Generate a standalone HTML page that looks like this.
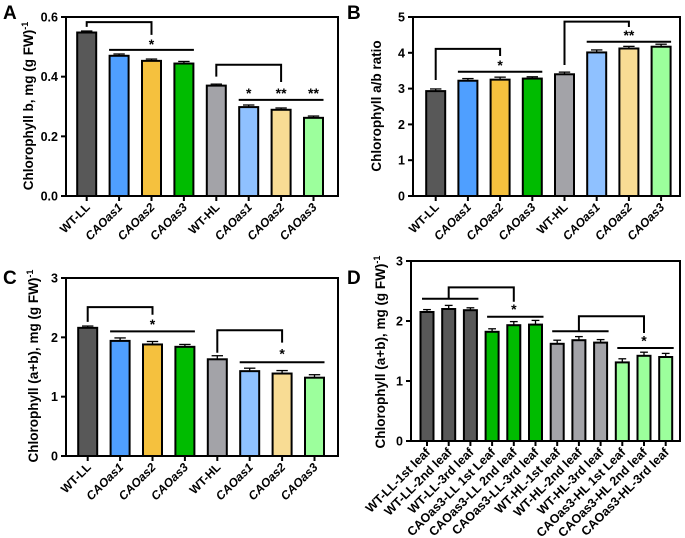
<!DOCTYPE html>
<html><head><meta charset="utf-8"><style>
html,body{margin:0;padding:0;background:#fff;}
svg{display:block;font-family:"Liberation Sans",Arial,sans-serif;font-weight:bold;}
</style></head><body>
<svg id="fig" width="685" height="538" viewBox="0 0 685 538" xmlns="http://www.w3.org/2000/svg"></svg>
<script>
// ---- data ----
const catsABC = ["WT-LL","CAOas1","CAOas2","CAOas3","WT-HL","CAOas1","CAOas2","CAOas3"];
const italicABC = [false,true,true,true,false,true,true,true];
const colorsABC = ["#585858","#4f9fff","#f5c13e","#00bb00","#a3a3a8","#8fc1ff","#f8dc94","#9cff9c"];
const valsA = [0.548,0.470,0.453,0.444,0.370,0.298,0.289,0.262];
const errA = [0.005,0.006,0.006,0.007,0.005,0.007,0.006,0.006];
const valsB = [2.93,3.22,3.25,3.28,3.40,4.01,4.12,4.17];
const errB = [0.06,0.06,0.07,0.05,0.06,0.07,0.06,0.07];
const valsC = [2.16,1.94,1.88,1.84,1.63,1.43,1.39,1.32];
const errC = [0.03,0.05,0.05,0.04,0.06,0.05,0.05,0.05];
const catsD = ["WT-LL-1st leaf","WT-LL-2nd leaf","WT-LL-3rd leaf","CAOas3-LL 1st Leaf","CAOas3-LL 2nd leaf","CAOas3-LL-3rd leaf","WT-HL-1st leaf","WT-HL-2nd leaf","WT-HL-3rd leaf","CAOas3-HL 1st Leaf","CAOas3-HL 2nd leaf","CAOas3-HL-3rd leaf"];
const colorsD = ["#585858","#585858","#585858","#00bb00","#00bb00","#00bb00","#a3a3a8","#a3a3a8","#a3a3a8","#9cff9c","#9cff9c","#9cff9c"];
const valsD = [2.15,2.20,2.18,1.82,1.93,1.94,1.62,1.68,1.64,1.31,1.42,1.40];
const errD = [0.04,0.06,0.04,0.05,0.06,0.07,0.06,0.06,0.05,0.06,0.06,0.06];
const ticksA = [0,0.2,0.4,0.6], tickLabA = ["0.0","0.2","0.4","0.6"];
const ticksB = [0,1,2,3,4,5], tickLabB = ["0","1","2","3","4","5"];
const ticksC = [0,1,2,3], tickLabC = ["0","1","2","3"];
const ticksD = [0,1,2,3], tickLabD = ["0","1","2","3"];

const NS="http://www.w3.org/2000/svg";
const svg=document.getElementById('fig');
function mk(tag,attrs,parent){const e=document.createElementNS(NS,tag);for(const k in attrs)e.setAttribute(k,attrs[k]);(parent||svg).appendChild(e);return e;}

function panel(o){
  const g=mk('g',{});
  
  
  const y=v=>o.y0-(v/o.ymax)*(o.y0-o.yTop);
  const x=i=>o.x0+i*o.step;
  const L=mk('text',{x:o.lx,y:o.ly,'font-size':19},g);L.textContent=o.letter;
  
  
  const t=mk('text',{x:0,y:0,'font-size':13.5,'text-anchor':'middle',transform:`translate(${o.tx},${o.ty}) rotate(-90)`},g);
  t.innerHTML=o.title;
  
  
  o.vals.forEach((v,i)=>{
    const cx=x(i);
    const ey=y(v+o.err[i]);
    const el=mk('line',{x1:cx,x2:cx,y1:y(v),y2:ey,stroke:'#000','stroke-width':1.3},g);
    
    
    mk('line',{x1:cx-o.bw*0.3,x2:cx+o.bw*0.3,y1:ey,y2:ey,stroke:'#000','stroke-width':1.3},g);
    const r=mk('rect',{x:cx-o.bw/2,y:y(v),width:o.bw,height:o.y0-y(v),fill:o.colors[i],stroke:'#000','stroke-width':2},g);
    
    
    mk('line',{x1:cx,x2:cx,y1:o.y0,y2:o.y0+5,stroke:'#000','stroke-width':2},g);
    const lb=mk('text',{x:0,y:0,'font-size':o.lfs,'text-anchor':'end',transform:`translate(${cx+4},${o.y0+12}) rotate(-45)`,'font-style':o.italic&&o.italic[i]?'italic':'normal'},g);
    lb.textContent=o.cats[i];
    
    
  });
  const f=mk('rect',{x:o.xl,y:o.yTop,width:o.xr-o.xl,height:o.y0-o.yTop,fill:'none',stroke:'#000','stroke-width':2},g);
  
  
  o.ticks.forEach((tv,i)=>{
    mk('line',{x1:o.xl-5,x2:o.xl,y1:y(tv),y2:y(tv),stroke:'#000','stroke-width':2},g);
    const tl=mk('text',{x:o.xl-8,y:y(tv)+4.5,'font-size':12.5,'text-anchor':'end'},g);
    tl.textContent=o.tickLab[i];
    
    
  });
  const ln=(x1,y1,x2,y2)=>{const l=mk('path',{d:`M${x1},${y1}L${x2},${y2}`,stroke:'#000','stroke-width':2,fill:'none'},g);};
  (o.brackets||[]).forEach(b=>{
    const p=mk('path',{d:`M${b[0]},${y(b[3])}L${b[0]},${y(b[2])}L${b[1]},${y(b[2])}L${b[1]},${y(b[4])}`,stroke:'#000','stroke-width':2,fill:'none'},g);
    
    
  });
  (o.lines||[]).forEach(l=>ln(l[0],y(l[2]),l[1],y(l[2])));
  (o.stars||[]).forEach(s=>{const st=mk('text',{x:s[0],y:y(s[1])+7,'font-size':14,'text-anchor':'middle'},g);st.textContent=s[2];});
  return {x,y};
}

const sup='<tspan dy="-5" font-size="9">-1</tspan>';
const ax=i=>86.7+i*32.4, bx=i=>435.7+i*32.2, dx=i=>427+i*21.7;
panel({name:'panel-a',letter:'A',lx:3,ly:19,x0:86.7,step:32.4,bw:19,xl:66,xr:338,yTop:17,y0:196,ymax:0.6,
  vals:valsA,err:errA,cats:catsABC,colors:colorsABC,italic:italicABC,lfs:12,ticks:ticksA,tickLab:tickLabA,
  tx:33,ty:106,title:'Chlorophyll b, mg (g FW)'+sup,
  brackets:[[ax(0),ax(2),0.583,0.567,0.54],[ax(4),ax(6),0.44,0.40,0.382]],
  lines:[[ax(1)-10,ax(3)+10,0.49],[ax(5)-10,ax(7)+10,0.322]],
  stars:[[ax(2),0.516,'*'],[ax(5),0.352,'*'],[ax(6),0.352,'**'],[ax(7),0.352,'**']]});
panel({name:'panel-b',letter:'B',lx:347,ly:19,x0:435.7,step:32.2,bw:19,xl:413,xr:680,yTop:17,y0:196,ymax:5,
  vals:valsB,err:errB,cats:catsABC,colors:colorsABC,italic:italicABC,lfs:12,ticks:ticksB,tickLab:tickLabB,
  tx:381,ty:106,title:'Chlorophyll a/b ratio',
  brackets:[[bx(0),bx(2),4.11,3.24,3.91],[bx(4),bx(6),4.87,3.66,4.72]],
  lines:[[bx(1)-10,bx(3)+10,3.47],[bx(5)-10,bx(7)+10,4.31]],
  stars:[[bx(2),3.72,'*'],[bx(6),4.55,'**']]});
panel({name:'panel-c',letter:'C',lx:3,ly:284,x0:87.7,step:32.4,bw:19,xl:66,xr:338,yTop:278,y0:456,ymax:3,
  vals:valsC,err:errC,cats:catsABC,colors:colorsABC,italic:italicABC,lfs:12,ticks:ticksC,tickLab:tickLabC,
  tx:38,ty:366,title:'Chlorophyll (a+b), mg (g FW)'+sup,
  brackets:[[ax(0)+1,ax(2)+1,2.51,2.26,2.38],[ax(4)+1,ax(6)+1,2.12,1.74,1.91]],
  lines:[[ax(1)-9,ax(3)+11,2.1],[ax(5)-9,ax(7)+11,1.58]],
  stars:[[ax(2)+1,2.26,'*'],[ax(6)+1,1.76,'*']]});
panel({name:'panel-d',letter:'D',lx:347,ly:284,x0:427,step:21.7,bw:13,xl:411,xr:680,yTop:261,y0:441,ymax:3,
  vals:valsD,err:errD,cats:catsD,colors:colorsD,lfs:12.5,ticks:ticksD,tickLab:tickLabD,
  tx:385,ty:352,title:'Chlorophyll (a+b), mg (g FW)'+sup,
  brackets:[[dx(1),dx(4),2.56,2.37,2.32],[dx(7),dx(10),2.08,1.83,1.80]],
  lines:[[dx(0)-5,dx(2)+8,2.37],[dx(3)-5,dx(5)+8,2.07],[dx(6)-5,dx(8)+8,1.83],[dx(9)-5,dx(11)+8,1.55]],
  stars:[[dx(4),2.23,'*'],[dx(10),1.71,'*']]});
</script>
</body></html>
